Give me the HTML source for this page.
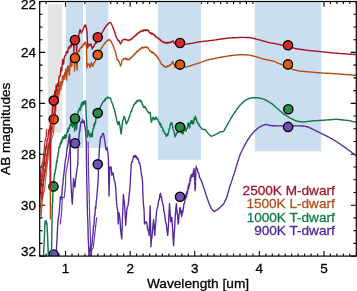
<!DOCTYPE html>
<html><head><meta charset="utf-8"><style>
html,body{margin:0;padding:0;background:#fff;}
svg{display:block;}
</style></head><body>
<svg width="357" height="291" viewBox="0 0 357 291">
<rect width="357" height="291" fill="#fff"/>
<path d="M39.70 256.1V253.50M39.70 1.5V4.10M46.16 256.1V253.50M46.16 1.5V4.10M52.62 256.1V253.50M52.62 1.5V4.10M59.08 256.1V253.50M59.08 1.5V4.10M65.54 256.1V250.90M65.54 1.5V6.70M72.01 256.1V253.50M72.01 1.5V4.10M78.47 256.1V253.50M78.47 1.5V4.10M84.93 256.1V253.50M84.93 1.5V4.10M91.39 256.1V253.50M91.39 1.5V4.10M97.85 256.1V253.50M97.85 1.5V4.10M104.31 256.1V253.50M104.31 1.5V4.10M110.77 256.1V253.50M110.77 1.5V4.10M117.23 256.1V253.50M117.23 1.5V4.10M123.69 256.1V253.50M123.69 1.5V4.10M130.15 256.1V250.90M130.15 1.5V6.70M136.62 256.1V253.50M136.62 1.5V4.10M143.08 256.1V253.50M143.08 1.5V4.10M149.54 256.1V253.50M149.54 1.5V4.10M156.00 256.1V253.50M156.00 1.5V4.10M162.46 256.1V253.50M162.46 1.5V4.10M168.92 256.1V253.50M168.92 1.5V4.10M175.38 256.1V253.50M175.38 1.5V4.10M181.84 256.1V253.50M181.84 1.5V4.10M188.30 256.1V253.50M188.30 1.5V4.10M194.76 256.1V250.90M194.76 1.5V6.70M201.23 256.1V253.50M201.23 1.5V4.10M207.69 256.1V253.50M207.69 1.5V4.10M214.15 256.1V253.50M214.15 1.5V4.10M220.61 256.1V253.50M220.61 1.5V4.10M227.07 256.1V253.50M227.07 1.5V4.10M233.53 256.1V253.50M233.53 1.5V4.10M239.99 256.1V253.50M239.99 1.5V4.10M246.45 256.1V253.50M246.45 1.5V4.10M252.91 256.1V253.50M252.91 1.5V4.10M259.37 256.1V250.90M259.37 1.5V6.70M265.83 256.1V253.50M265.83 1.5V4.10M272.30 256.1V253.50M272.30 1.5V4.10M278.76 256.1V253.50M278.76 1.5V4.10M285.22 256.1V253.50M285.22 1.5V4.10M291.68 256.1V253.50M291.68 1.5V4.10M298.14 256.1V253.50M298.14 1.5V4.10M304.60 256.1V253.50M304.60 1.5V4.10M311.06 256.1V253.50M311.06 1.5V4.10M317.52 256.1V253.50M317.52 1.5V4.10M323.98 256.1V250.90M323.98 1.5V6.70M330.44 256.1V253.50M330.44 1.5V4.10M336.91 256.1V253.50M336.91 1.5V4.10M343.37 256.1V253.50M343.37 1.5V4.10M349.83 256.1V253.50M349.83 1.5V4.10M356.29 256.1V253.50M356.29 1.5V4.10M39.7 1.50H45.20M356.3 1.50H350.80M39.7 14.23H42.50M356.3 14.23H353.50M39.7 26.96H42.50M356.3 26.96H353.50M39.7 39.69H42.50M356.3 39.69H353.50M39.7 52.42H45.20M356.3 52.42H350.80M39.7 65.15H42.50M356.3 65.15H353.50M39.7 77.88H42.50M356.3 77.88H353.50M39.7 90.61H42.50M356.3 90.61H353.50M39.7 103.34H45.20M356.3 103.34H350.80M39.7 116.07H42.50M356.3 116.07H353.50M39.7 128.80H42.50M356.3 128.80H353.50M39.7 141.53H42.50M356.3 141.53H353.50M39.7 154.26H45.20M356.3 154.26H350.80M39.7 166.99H42.50M356.3 166.99H353.50M39.7 179.72H42.50M356.3 179.72H353.50M39.7 192.45H42.50M356.3 192.45H353.50M39.7 205.18H45.20M356.3 205.18H350.80M39.7 217.91H42.50M356.3 217.91H353.50M39.7 230.64H42.50M356.3 230.64H353.50M39.7 243.37H42.50M356.3 243.37H353.50M39.7 256.10H45.20M356.3 256.10H350.80" stroke="#000" stroke-width="1.1" fill="none"/>
<rect x="47.3" y="2.1" width="15.4" height="3" fill="#fff"/>
<rect x="47.8" y="4.0" width="14.50" height="129.00" fill="#e5e5e5"/>
<rect x="65.85" y="1.5" width="17.15" height="146.50" fill="#cbdef0"/>
<rect x="85.8" y="1.5" width="22.50" height="146.50" fill="#cbdef0"/>
<rect x="157.9" y="1.5" width="43.10" height="158.30" fill="#cbdef0"/>
<rect x="254.8" y="1.5" width="66.40" height="149.80" fill="#cbdef0"/>
<clipPath id="ax"><rect x="39.7" y="1.5" width="316.60" height="254.60"/></clipPath>
<g clip-path="url(#ax)">
<path d="M55.9,260.0 56.5,247.3 57.1,238.1 57.7,225.0 58.3,218.2 58.9,215.4 59.5,209.4 60.3,197.3 60.8,196.8 61.2,199.0 61.8,195.1 62.3,187.5 62.9,183.6 63.7,175.0 64.3,170.6 64.9,164.5 65.5,160.0 66.2,156.4 66.9,149.7 67.6,146.5 68.3,143.1 68.9,137.2 69.6,134.1 70.2,145.0 70.7,178.0 71.6,196.0 72.3,204.0 73.1,190.0 73.5,178.4 74.2,185.0 75.0,187.2 75.5,180.0 76.0,177.1 76.5,172.6 77.2,168.0 77.9,163.8 78.0,150.0 78.7,139.8 79.4,132.5 79.9,130.5 80.5,124.6 81.0,122.0 81.8,122.3 82.5,119.5 83.3,123.0 83.8,121.5 84.2,121.0 84.7,125.6 85.2,127.4 85.7,133.1 86.2,141.8 86.7,175.0 87.1,196.2 87.5,215.0 87.9,223.4 88.2,238.6 88.6,244.3 89.0,258.0 89.5,255.3 90.0,250.0 90.4,247.0 90.8,250.8 91.3,244.8 91.7,246.0 92.1,243.0 92.6,235.9 93.0,235.4 93.4,226.1 93.9,226.5 94.3,219.0 94.7,214.5 95.0,214.9 95.4,206.4 95.8,208.5 96.2,201.9 96.5,199.9 96.9,195.7 97.6,187.3 98.2,180.0 98.6,160.4 99.1,154.5 99.6,145.9 100.2,140.6 100.7,137.0 101.5,137.4 102.2,134.6 102.9,133.2 103.4,133.4 103.9,135.3 104.5,139.7 105.0,141.5 105.5,146.5 106.3,150.0 107.1,147.7 107.7,151.1 108.4,158.0 109.0,196.0 109.5,180.0 109.9,166.9 110.5,167.6 111.1,166.9 111.9,175.1 112.6,173.0 113.2,173.1 113.9,178.8 114.6,181.3 115.2,183.3 115.7,187.5 116.6,203.6 117.2,207.9 117.7,210.5 118.2,224.0 118.9,212.7 119.5,215.3 120.0,219.5 120.5,228.6 121.2,235.1 121.8,238.9 122.2,225.1 122.7,212.7 123.4,194.5 124.0,200.2 124.5,203.6 125.1,213.3 125.7,225.2 126.2,218.9 126.8,210.5 127.4,206.8 128.0,205.7 128.6,201.4 129.2,194.2 129.8,190.0 130.5,178.2 131.2,164.8 131.9,161.5 132.5,161.5 133.2,157.6 133.7,155.9 134.2,157.3 134.8,155.5 135.3,155.5 135.9,157.6 136.5,156.3 137.2,159.0 137.8,158.0 138.4,159.6 139.1,163.2 139.8,163.2 140.5,166.9 141.2,172.5 141.8,175.9 142.5,181.3 142.9,194.0 143.4,203.6 144.1,210.5 144.5,224.0 145.1,221.8 145.8,223.0 146.4,221.8 146.9,223.4 147.5,228.4 148.0,229.8 148.6,231.7 149.1,235.5 149.6,222.0 150.2,205.9 150.9,246.8 151.4,239.9 152.0,237.3 152.5,230.9 153.1,224.3 153.6,219.5 154.2,228.2 154.8,235.5 155.3,227.1 155.9,220.9 156.4,212.7 157.0,209.1 157.6,207.4 158.2,203.6 158.8,199.6 159.3,199.6 159.9,194.6 160.5,193.4 161.1,197.5 161.6,197.1 162.1,201.6 162.7,203.6 163.3,205.5 163.8,211.0 164.4,212.5 165.0,217.3 165.6,222.5 166.2,223.6 166.8,228.6 167.7,235.5 168.4,226.4 168.9,215.9 169.5,203.6 170.1,212.1 170.7,221.8 171.2,220.1 171.8,217.3 172.4,225.6 173.0,237.0 173.6,245.7 174.1,235.2 174.7,227.5 175.2,217.3 175.8,209.8 176.4,203.6 177.0,211.2 177.6,215.9 178.2,224.0 178.6,222.0 179.0,214.4 179.4,214.1 179.8,208.2 180.2,207.5 180.7,212.9 181.1,210.4 181.6,216.6 182.0,215.0 182.4,210.6 182.8,212.6 183.2,207.7 183.5,208.7 183.9,203.8 184.3,203.6 184.7,202.4 185.0,199.2 185.4,195.4 185.8,198.7 186.2,193.5 186.6,196.8 187.0,191.1 187.4,193.5 187.8,190.1 188.2,185.7 188.6,189.1 189.1,183.3 189.5,185.6 189.9,182.4 190.2,177.5 190.6,181.0 191.0,175.1 191.3,174.7 191.8,177.0 192.2,174.0 192.7,176.8 193.0,176.7 193.4,170.6 193.8,171.8 194.1,168.4 194.6,177.5 195.1,190.8 195.5,185.0 195.8,172.0 196.2,166.3 196.7,168.8 197.2,168.5 197.8,172.0 198.3,172.6 198.9,173.5 199.4,177.3 200.0,178.2 200.6,179.2 201.2,180.2 201.8,182.1 202.5,184.0 203.1,185.8 203.7,187.7 204.4,189.6 205.0,191.5 205.6,193.4 206.2,195.2 206.9,197.1 207.5,198.9 208.1,200.8 208.7,202.3 209.3,203.9 210.0,205.4 210.6,207.0 211.2,208.5 211.8,209.1 212.4,209.7 213.1,210.4 213.7,211.0 214.3,211.6 214.9,211.2 215.5,210.8 216.0,210.4 216.6,210.1 217.2,209.7 217.8,209.3 218.3,208.9 218.9,208.5 219.5,207.9 220.1,207.3 220.7,206.8 221.2,206.2 221.8,205.6 222.4,205.1 223.0,204.5 223.6,203.9 224.2,202.7 224.8,201.4 225.5,200.2 226.1,198.9 226.7,197.7 227.3,195.5 227.9,193.4 228.5,191.2 229.1,189.1 229.7,186.9 230.3,185.2 230.9,183.4 231.5,181.7 232.1,179.9 232.6,178.2 233.2,176.4 233.8,174.7 234.4,172.9 235.0,170.8 235.6,168.7 236.3,166.7 236.9,164.6 237.5,162.5 238.1,160.8 238.6,159.1 239.2,157.4 239.7,155.7 240.3,154.0 240.9,152.7 241.5,151.5 242.2,150.2 242.8,149.0 243.4,147.7 244.0,146.6 244.6,145.4 245.2,144.3 245.9,143.2 246.5,142.0 247.1,140.9 247.7,140.0 248.4,139.0 249.0,138.1 249.6,137.2 250.3,136.2 250.9,135.3 251.5,134.6 252.1,133.9 252.8,133.2 253.4,132.4 254.0,131.7 254.6,131.0 255.2,130.5 255.8,130.0 256.4,129.4 257.1,128.9 257.7,128.4 258.3,127.9 258.9,127.5 259.5,127.2 260.1,126.8 260.8,126.4 261.4,126.1 262.0,125.7 262.6,125.5 263.2,125.3 263.9,125.1 264.5,124.8 265.1,124.6 265.7,124.4 266.3,124.5 267.0,124.7 267.6,124.8 268.2,125.0 268.8,125.2 269.4,125.4 270.0,125.5 270.5,125.5 271.1,125.6 271.6,125.6 272.2,125.7 272.8,125.7 273.4,125.7 273.9,125.7 274.5,125.7 275.1,125.7 275.6,125.8 276.2,125.8 276.8,125.8 277.4,125.8 278.0,125.8 278.5,125.8 279.1,125.8 279.7,125.8 280.3,125.9 280.9,125.9 281.5,125.9 282.1,126.0 282.7,126.0 283.3,126.0 283.8,126.1 284.4,126.1 285.0,126.1 285.6,126.2 286.2,126.2 286.8,126.2 287.4,126.3 288.0,126.3 288.6,126.3 289.2,126.2 289.8,126.2 290.4,126.2 291.0,126.1 291.6,126.1 292.1,126.0 292.7,126.0 293.3,126.0 293.9,125.9 294.5,125.9 295.1,125.9 295.7,125.8 296.3,125.8 296.9,125.8 297.5,125.8 298.1,125.9 298.8,125.9 299.4,125.9 300.0,125.9 300.6,125.9 301.2,126.0 301.8,126.0 302.4,126.0 303.1,126.0 303.7,126.1 304.3,126.1 304.9,126.1 305.5,126.3 306.0,126.5 306.6,126.7 307.2,126.9 307.7,127.0 308.3,127.2 308.9,127.4 309.4,127.6 310.0,127.8 310.6,128.1 311.2,128.4 311.8,128.7 312.4,129.0 312.9,129.3 313.5,129.6 314.1,129.9 314.7,130.2 315.3,130.4 315.9,130.7 316.5,131.0 317.0,131.3 317.6,131.6 318.2,131.9 318.8,132.2 319.4,132.5 320.0,132.8 320.6,133.1 321.2,133.4 321.8,133.7 322.4,134.0 323.0,134.3 323.6,134.6 324.2,134.9 324.9,135.2 325.5,135.5 326.1,135.8 326.7,136.1 327.3,136.4 327.9,136.7 328.5,137.0 329.1,137.3 329.7,137.6 330.3,138.0 330.9,138.3 331.5,138.7 332.1,139.0 332.7,139.4 333.3,139.7 333.9,140.0 334.5,140.4 335.1,140.7 335.7,141.1 336.3,141.4 336.9,141.8 337.5,142.2 338.1,142.7 338.7,143.1 339.3,143.5 339.9,143.9 340.5,144.3 341.1,144.8 341.7,145.2 342.3,145.6 342.9,146.0 343.5,146.4 344.1,146.8 344.7,147.3 345.3,147.7 345.9,148.1 346.5,148.5 347.1,149.0 347.7,149.4 348.3,149.9 348.9,150.3 349.5,150.8 350.1,151.2 350.7,151.6 351.3,152.1 351.9,152.5 352.5,153.0 353.1,153.4 353.8,153.9 354.4,154.5 355.1,155.0 355.7,155.5 356.4,156.1 357.0,156.6" stroke="#5428a0" stroke-width="1.35" fill="none" stroke-linejoin="round"/>
<path d="M60.3,224.5 61.7,210.9 62.3,197.3 64.3,197.3 65.6,184.1 65.7,174.5 68.3,159.8 70.5,145.1" stroke="#5428a0" stroke-width="1.2" fill="none" stroke-linejoin="round" opacity="0.9"/>
<path d="M88.1,141.5 88.6,173.8 89.7,216.3 91.0,256.6 91.8,249.3 93.2,247.8 96.7,217.2" stroke="#5428a0" stroke-width="1.2" fill="none" stroke-linejoin="round" opacity="0.9"/>
<circle cx="53.6" cy="254.5" r="4.6" fill="#7050b0" stroke="#000" stroke-width="1.4"/>
<circle cx="75.05" cy="143.2" r="4.6" fill="#7050b0" stroke="#000" stroke-width="1.4"/>
<circle cx="97.75" cy="164.3" r="4.6" fill="#7050b0" stroke="#000" stroke-width="1.4"/>
<circle cx="180.0" cy="196.8" r="4.6" fill="#7050b0" stroke="#000" stroke-width="1.4"/>
<circle cx="288.1" cy="126.9" r="4.6" fill="#7050b0" stroke="#000" stroke-width="1.4"/>
<path d="M43.4,260.0 43.8,249.3 44.2,242.2 44.7,229.6 45.1,221.0 45.5,222.5 46.0,220.6 46.5,223.9 46.9,223.0 47.3,230.6 47.8,241.0 48.2,251.9 48.7,260.0 49.1,258.6 49.5,260.5 49.9,257.4 50.3,260.0 50.7,256.9 51.1,260.2 51.5,258.0 51.9,229.5 52.3,205.0 52.7,200.9 53.0,191.6 53.4,186.4 53.8,183.0 54.1,177.5 54.5,173.2 54.9,174.1 55.4,169.1 55.8,169.3 56.2,165.1 56.6,160.8 57.0,162.4 57.4,157.1 57.8,156.9 58.1,152.8 58.5,153.3 58.9,147.8 59.3,146.5 59.7,147.5 60.1,145.0 60.5,142.4 60.9,144.3 61.4,140.2 61.8,142.5 62.2,139.4 62.6,137.3 63.0,139.4 63.4,136.9 63.8,138.6 64.2,136.6 64.7,135.0 65.1,138.4 65.6,138.0 65.9,134.9 66.3,136.9 66.7,133.0 67.0,132.5 67.4,132.7 67.8,129.1 68.3,131.4 68.7,127.9 69.1,128.4 69.5,128.4 70.0,124.8 70.4,124.2 70.8,125.2 71.1,121.2 71.5,122.0 72.0,126.0 72.5,127.0 73.0,122.3 73.5,120.0 73.9,125.6 74.2,125.5 74.6,131.1 75.0,127.0 75.5,120.0 75.9,122.4 76.2,127.4 76.6,129.7 77.0,123.9 77.3,120.7 77.7,115.0 78.1,111.1 78.5,110.5 78.9,110.8 79.3,108.1 79.7,107.9 80.0,109.7 80.4,110.2 80.8,106.6 81.2,104.2 81.6,106.9 82.0,102.4 82.4,103.5 82.8,104.9 83.2,101.5 83.5,104.9 83.9,102.4 84.3,101.3 84.7,103.7 85.1,101.8 85.4,100.6 85.8,103.5 86.2,115.0 86.6,122.6 87.0,127.5 87.6,137.0 88.0,131.8 88.5,130.5 88.9,133.7 89.3,135.0 89.7,134.7 90.1,137.0 90.5,136.1 91.0,133.0 91.5,133.7 92.0,137.0 92.4,135.8 92.8,130.3 93.2,128.2 93.6,128.4 94.0,124.3 94.3,126.5 94.7,124.4 95.1,122.0 95.5,123.5 95.9,118.3 96.3,118.2 96.7,117.7 97.0,114.3 97.4,115.6 97.8,113.5 98.1,112.9 98.5,111.0 98.9,112.7 99.3,108.3 99.7,110.3 100.1,107.4 100.5,107.6 100.9,106.0 101.6,104.2 102.2,103.9 102.9,101.6 103.6,101.2 104.2,101.4 104.7,99.5 105.3,100.0 105.8,98.3 106.4,98.4 107.1,98.5 107.7,97.0 108.4,97.1 109.1,98.2 109.8,97.7 110.5,98.3 111.2,100.5 111.9,102.5 112.6,103.8 113.2,105.5 113.8,108.8 114.5,109.2 115.1,112.2 115.7,115.7 116.2,117.3 116.8,120.6 117.5,123.0 118.2,124.8 119.0,121.4 119.6,123.6 120.2,127.3 120.7,131.5 121.2,134.0 122.0,126.6 122.7,120.6 123.3,119.9 123.8,116.9 124.4,116.4 125.2,119.7 125.9,122.4 126.6,124.0 127.2,121.8 127.7,121.4 128.3,120.0 129.0,117.3 129.7,116.6 130.3,113.9 131.0,111.5 131.6,111.3 132.3,108.4 132.9,107.6 133.6,105.4 134.2,104.1 134.7,104.3 135.3,102.8 135.9,103.2 136.4,101.0 137.0,101.2 137.6,101.6 138.2,100.1 138.9,100.9 139.5,100.1 140.1,99.9 140.6,101.6 141.2,101.2 141.8,101.8 142.3,104.4 142.8,104.8 143.4,107.1 143.9,107.5 144.5,106.3 145.2,107.1 145.8,108.8 146.4,109.0 147.1,110.5 147.6,111.7 148.2,111.8 148.7,113.0 149.4,113.0 150.1,112.2 150.7,116.6 151.3,122.3 151.9,121.1 152.4,118.6 153.0,117.2 153.5,118.8 154.1,118.1 154.6,119.7 155.2,119.3 155.7,117.2 156.3,117.2 157.0,119.2 157.7,119.1 158.4,121.0 159.0,122.3 159.5,122.2 160.1,125.2 160.7,123.6 161.2,127.2 161.8,126.8 162.5,127.6 163.1,130.9 163.8,130.4 164.4,133.0 165.1,133.6 165.7,133.5 166.2,136.3 166.8,136.1 167.4,134.0 167.9,135.1 168.5,132.7 169.1,129.0 169.6,129.0 170.2,125.2 170.7,123.3 171.3,124.3 171.8,122.6 172.4,124.7 172.9,128.7 173.5,130.2 174.1,131.1 174.6,135.3 175.2,136.9 175.8,134.1 176.3,134.5 176.9,132.7 177.5,131.3 178.1,132.6 178.7,129.7 179.3,131.1 179.9,129.5 180.4,130.0 181.0,132.5 181.5,133.0 182.2,131.7 182.9,134.1 183.6,131.9 183.9,129.9 184.3,130.4 184.7,126.3 185.0,127.0 185.5,130.5 186.0,131.0 186.5,129.0 187.0,128.5 187.4,128.6 187.8,123.5 188.1,126.0 188.5,123.0 189.0,124.3 189.5,128.0 189.9,126.7 190.3,123.5 190.7,121.3 191.2,123.4 191.6,120.4 192.0,121.0 192.5,123.3 193.0,124.0 193.4,120.9 193.8,123.3 194.1,118.2 194.5,118.4 194.9,119.7 195.3,116.3 195.7,117.1 196.0,119.3 196.4,118.9 196.8,121.6 197.1,121.8 197.7,122.4 198.3,124.4 198.8,123.7 199.4,126.3 200.0,126.5 200.7,127.2 201.3,128.0 201.9,128.8 202.6,129.5 203.2,129.5 203.9,129.5 204.5,129.5 205.2,129.5 205.8,130.3 206.4,131.2 207.1,132.1 207.7,132.9 208.3,133.5 208.9,134.0 209.4,134.6 210.0,135.2 210.6,135.7 211.2,136.3 211.8,136.1 212.4,135.8 213.0,135.6 213.7,135.3 214.3,135.1 214.9,134.8 215.5,134.6 216.1,134.2 216.8,133.9 217.4,133.5 218.1,133.1 218.7,132.8 219.3,132.4 220.0,132.1 220.6,131.7 221.2,131.7 221.8,131.6 222.4,131.6 223.0,131.5 223.6,131.5 224.2,130.5 224.7,129.4 225.2,128.4 225.8,127.4 226.4,126.4 227.0,125.4 227.5,124.3 228.1,123.3 228.7,122.3 229.3,121.3 229.8,120.3 230.4,119.3 230.9,118.3 231.5,117.3 232.1,116.4 232.7,115.5 233.2,114.7 233.8,113.8 234.4,112.9 235.0,112.0 235.6,111.2 236.1,110.3 236.7,109.5 237.3,108.6 237.9,107.9 238.5,107.2 239.0,106.4 239.6,105.7 240.2,105.0 240.8,104.4 241.4,103.8 241.9,103.3 242.5,102.7 243.1,102.1 243.7,101.7 244.3,101.2 244.8,100.8 245.4,100.3 246.0,99.9 246.6,99.6 247.2,99.3 247.7,99.1 248.3,98.8 248.9,98.5 249.5,98.4 250.1,98.3 250.7,98.2 251.3,98.0 251.9,97.9 252.5,97.8 253.1,97.8 253.7,97.8 254.3,97.8 254.9,97.8 255.5,97.8 256.1,97.8 256.7,97.8 257.3,97.9 257.9,97.9 258.5,98.0 259.1,98.0 259.7,98.1 260.3,98.2 260.9,98.3 261.4,98.5 262.0,98.6 262.6,98.8 263.2,99.1 263.8,99.3 264.4,99.5 264.9,99.8 265.5,100.0 266.1,100.3 266.7,100.5 267.3,100.9 268.0,101.3 268.6,101.7 269.2,102.1 269.9,102.5 270.5,102.9 271.1,103.3 271.8,103.7 272.4,104.1 273.0,104.6 273.6,105.1 274.1,105.6 274.7,106.1 275.3,106.7 275.9,107.2 276.5,107.7 277.0,108.2 277.6,108.7 278.2,109.2 278.8,109.7 279.4,110.2 279.9,110.7 280.5,111.2 281.1,111.7 281.7,112.2 282.3,112.7 282.8,113.2 283.4,113.7 284.0,114.2 284.6,114.6 285.2,114.9 285.7,115.3 286.3,115.6 286.9,116.0 287.5,116.4 288.1,116.7 288.6,117.1 289.2,117.4 289.8,117.8 290.4,118.1 291.1,118.4 291.7,118.8 292.3,119.1 293.0,119.4 293.6,119.7 294.2,120.1 294.9,120.4 295.5,120.7 296.1,120.8 296.6,121.0 297.2,121.1 297.8,121.2 298.3,121.3 298.9,121.5 299.4,121.6 300.0,121.7 300.6,121.8 301.2,121.8 301.9,121.9 302.5,121.9 303.1,122.0 303.7,121.9 304.3,121.9 304.9,121.8 305.5,121.7 306.1,121.7 306.7,121.6 307.3,121.5 307.9,121.4 308.5,121.4 309.1,121.3 309.6,121.2 310.2,121.2 310.8,121.1 311.4,121.0 312.0,120.9 312.6,120.9 313.2,120.8 313.8,120.7 314.4,120.7 315.0,120.6 315.6,120.6 316.3,120.6 316.9,120.6 317.5,120.5 318.1,120.5 318.8,120.5 319.4,120.5 320.0,120.5 320.6,120.4 321.2,120.4 321.8,120.3 322.4,120.3 323.0,120.2 323.6,120.2 324.2,120.2 324.8,120.1 325.4,120.1 326.0,120.0 326.6,120.0 327.2,119.9 327.9,119.9 328.5,119.9 329.1,119.8 329.7,119.8 330.3,119.7 330.9,119.7 331.5,119.6 332.1,119.6 332.7,119.6 333.3,119.5 333.9,119.5 334.5,119.4 335.1,119.4 335.7,119.3 336.3,119.3 336.9,119.4 337.5,119.4 338.1,119.5 338.7,119.5 339.3,119.6 339.9,119.7 340.5,119.7 341.1,119.8 341.7,119.8 342.3,119.9 342.9,120.0 343.5,120.0 344.1,120.1 344.7,120.1 345.3,120.2 345.9,120.3 346.5,120.3 347.1,120.4 347.7,120.4 348.3,120.5 348.9,120.6 349.5,120.8 350.2,120.9 350.8,121.0 351.4,121.2 352.0,121.3 352.6,121.5 353.3,121.6 353.9,121.7 354.5,121.9 355.1,122.0 355.8,122.1 356.4,122.3 357.0,122.4" stroke="#13744a" stroke-width="1.4" fill="none" stroke-linejoin="round"/>
<circle cx="53.5" cy="186.4" r="4.6" fill="#2e8a48" stroke="#000" stroke-width="1.4"/>
<circle cx="75.05" cy="118.5" r="4.6" fill="#2e8a48" stroke="#000" stroke-width="1.4"/>
<circle cx="97.7" cy="113.1" r="4.6" fill="#2e8a48" stroke="#000" stroke-width="1.4"/>
<circle cx="180.0" cy="127.1" r="4.6" fill="#2e8a48" stroke="#000" stroke-width="1.4"/>
<circle cx="288.3" cy="109.2" r="4.6" fill="#2e8a48" stroke="#000" stroke-width="1.4"/>
<path d="M39.7,215.0 40.0,208.7 40.4,207.0 40.8,205.5 41.2,199.0 41.6,194.0 41.9,195.0 42.3,190.0 42.7,184.9 43.1,186.3 43.5,180.0 43.9,175.7 44.2,175.7 44.6,170.3 45.0,169.0 45.4,167.7 45.8,161.9 46.1,162.2 46.5,158.0 46.9,154.2 47.4,154.3 47.8,150.0 48.2,146.1 48.6,147.4 49.0,143.0 49.4,140.7 49.8,142.4 50.2,140.0 50.4,219.0 50.7,140.0 51.1,134.7 51.5,133.0 52.0,131.7 52.5,125.0 53.0,120.1 53.4,119.7 53.8,118.4 54.2,106.0 54.6,107.6 55.0,100.0 55.5,99.3 56.0,102.0 56.4,103.0 56.9,93.1 57.3,96.8 57.7,91.6 58.1,89.4 58.5,94.0 58.9,94.2 59.3,85.5 59.7,91.6 60.1,81.7 60.5,83.4 60.9,89.1 61.2,86.0 61.6,82.0 62.0,85.3 62.4,76.6 62.8,82.3 63.2,76.5 63.6,75.2 64.0,79.0 64.4,79.2 64.8,72.5 65.2,75.9 65.6,69.0 66.0,71.0 66.3,76.9 66.7,80.0 67.3,70.0 67.7,66.4 68.0,71.3 68.3,65.9 68.7,66.9 69.1,73.8 69.4,75.0 70.0,65.0 70.4,61.5 70.8,66.4 71.1,59.1 71.5,62.7 71.9,65.9 72.4,56.7 72.8,60.0 73.2,61.1 73.7,58.0 74.1,58.6 74.4,62.0 74.6,71.0 74.9,60.0 75.5,58.0 76.0,60.8 76.5,62.0 77.2,70.0 77.5,56.0 77.9,52.1 78.6,50.5 79.2,51.2 79.9,48.3 80.6,48.0 81.1,48.1 81.7,46.2 82.2,47.3 82.7,45.9 83.4,43.8 84.0,45.0 84.7,43.2 85.2,42.1 85.8,42.5 86.5,46.0 86.9,68.0 87.6,64.0 88.2,64.7 88.8,63.9 89.4,65.4 90.0,67.5 90.6,65.5 91.2,62.7 91.8,63.7 92.4,66.3 93.0,65.9 93.6,63.9 94.2,62.5 94.8,62.2 95.4,60.9 96.0,58.6 96.6,58.5 97.1,55.8 97.7,54.5 98.3,54.1 98.8,52.1 99.4,52.0 100.0,50.2 100.5,49.9 101.1,48.7 101.7,47.6 102.2,47.2 102.8,45.9 103.3,45.7 103.9,44.5 104.6,43.3 105.2,42.9 105.9,41.6 106.6,41.1 107.2,41.1 107.7,40.3 108.3,40.4 108.8,39.5 109.4,39.5 110.1,40.7 110.7,40.7 111.4,41.8 112.1,43.7 112.8,44.7 113.5,46.6 114.2,48.8 114.8,50.1 115.5,52.1 116.1,54.8 116.6,56.9 117.2,59.5 117.8,60.4 118.3,60.2 118.9,61.3 119.5,63.2 120.0,64.2 120.6,66.1 121.2,64.4 121.7,61.5 122.3,59.9 123.0,59.7 123.6,58.7 124.2,59.0 124.9,58.2 125.5,58.2 126.1,59.3 126.7,58.6 127.2,59.9 127.8,59.2 128.4,59.9 129.0,59.9 129.5,58.6 130.1,58.8 130.7,57.6 131.2,57.9 131.8,57.0 132.4,56.2 133.0,56.3 133.6,54.9 134.3,54.9 134.9,53.4 135.5,53.7 136.1,52.7 136.7,51.6 137.3,51.9 137.8,50.8 138.4,51.0 139.0,49.8 139.6,49.9 140.1,48.7 140.7,49.1 141.3,48.0 141.9,47.3 142.5,48.0 143.1,47.2 143.8,47.9 144.4,47.1 145.0,47.5 145.6,47.2 146.2,47.0 146.8,47.8 147.5,47.3 148.1,47.8 148.7,49.3 149.3,49.5 149.9,50.9 150.5,51.5 151.0,51.2 151.6,52.4 152.2,51.8 152.7,53.0 153.3,52.7 153.9,53.0 154.4,54.3 155.0,54.0 155.6,55.4 156.1,55.1 156.7,56.1 157.3,57.4 157.8,57.3 158.4,58.5 159.0,59.7 159.6,60.0 160.2,61.9 160.7,62.2 161.3,64.0 161.9,64.5 162.5,64.4 163.0,65.7 163.6,65.6 164.2,66.5 164.7,66.2 165.3,67.1 165.9,67.3 166.5,66.5 167.1,66.9 167.6,65.9 168.2,66.5 168.8,65.9 169.4,65.1 170.1,65.6 170.7,64.2 171.3,64.2 171.9,63.6 172.4,62.0 173.0,61.4 173.6,63.9 174.2,64.9 174.8,67.1 175.4,67.3 176.1,66.4 176.7,66.9 177.4,65.8 178.0,66.3 178.6,65.9 179.3,65.7 179.9,65.5 180.5,65.7 181.1,65.8 181.7,66.0 182.3,66.1 182.9,66.3 183.5,66.5 184.1,66.6 184.7,66.8 185.3,66.9 185.9,67.1 186.5,66.9 187.1,66.7 187.6,66.5 188.2,66.4 188.8,66.2 189.4,66.0 189.9,65.8 190.5,65.6 191.1,65.5 191.7,65.3 192.2,65.1 192.8,64.9 193.4,64.7 194.1,64.5 194.7,64.3 195.3,64.1 195.9,63.9 196.6,63.8 197.2,63.6 197.8,63.4 198.4,63.2 199.1,63.0 199.7,62.8 200.3,62.6 200.8,62.4 201.4,62.1 202.0,61.9 202.6,61.7 203.1,61.5 203.7,61.3 204.3,61.1 204.9,60.9 205.4,60.6 206.0,60.4 206.6,60.2 207.2,60.1 207.8,59.9 208.4,59.8 209.0,59.7 209.6,59.5 210.2,59.4 210.8,59.2 211.4,59.1 212.0,59.0 212.6,58.8 213.2,58.7 213.8,58.6 214.4,58.4 215.0,58.3 215.6,58.2 216.2,58.1 216.8,58.0 217.4,57.9 217.9,57.7 218.5,57.6 219.1,57.5 219.7,57.4 220.3,57.3 220.9,57.2 221.5,57.1 222.1,57.0 222.7,56.9 223.3,56.8 223.9,56.7 224.5,56.6 225.1,56.5 225.8,56.4 226.4,56.3 227.0,56.2 227.6,56.1 228.2,56.0 228.8,55.9 229.4,55.8 230.0,55.7 230.6,55.6 231.2,55.5 231.8,55.5 232.4,55.4 233.0,55.4 233.6,55.3 234.2,55.2 234.8,55.2 235.4,55.1 236.1,55.1 236.7,55.0 237.3,55.0 237.9,54.9 238.5,54.8 239.1,54.8 239.7,54.7 240.3,54.7 240.9,54.6 241.5,54.6 242.1,54.7 242.7,54.7 243.4,54.7 244.0,54.8 244.6,54.8 245.2,54.9 245.8,54.9 246.4,54.9 247.0,55.0 247.7,55.0 248.3,55.0 248.9,55.1 249.5,55.1 250.1,55.3 250.8,55.4 251.4,55.6 252.0,55.7 252.6,55.9 253.3,56.0 253.9,56.2 254.5,56.3 255.1,56.5 255.8,56.6 256.4,56.8 257.0,57.0 257.5,57.2 258.1,57.3 258.7,57.5 259.3,57.7 259.9,57.9 260.4,58.1 261.0,58.3 261.6,58.5 262.1,58.6 262.7,58.8 263.3,59.0 263.9,59.1 264.5,59.2 265.1,59.4 265.7,59.5 266.3,59.6 266.9,59.7 267.5,59.9 268.1,60.0 268.8,60.1 269.4,60.2 270.0,60.4 270.6,60.5 271.2,60.6 271.8,60.7 272.4,60.9 273.0,61.0 273.6,61.1 274.2,61.4 274.9,61.7 275.5,61.9 276.1,62.2 276.7,62.5 277.4,62.8 278.0,63.1 278.6,63.4 279.2,63.6 279.9,63.9 280.5,64.2 281.1,64.3 281.8,64.5 282.4,64.6 283.0,64.7 283.6,64.9 284.2,65.0 284.9,65.1 285.5,65.3 286.1,65.4 286.8,65.5 287.4,65.7 288.0,65.8 288.6,66.2 289.1,66.7 289.7,67.2 290.2,67.6 290.8,68.0 291.4,68.5 291.9,69.0 292.5,69.4 293.1,69.6 293.8,69.7 294.4,69.9 295.0,70.0 295.6,70.2 296.3,70.3 296.9,70.5 297.5,70.6 298.1,70.8 298.8,70.9 299.4,71.1 300.0,71.1 300.6,71.2 301.2,71.2 301.9,71.3 302.5,71.3 303.1,71.4 303.7,71.4 304.3,71.5 304.9,71.5 305.5,71.6 306.2,71.6 306.8,71.7 307.4,71.8 308.0,71.8 308.6,71.9 309.2,71.9 309.8,72.0 310.3,72.0 310.9,72.1 311.5,72.1 312.1,72.2 312.7,72.2 313.3,72.3 313.9,72.3 314.4,72.4 315.0,72.4 315.6,72.5 316.2,72.5 316.8,72.6 317.4,72.6 318.0,72.7 318.5,72.7 319.1,72.8 319.7,72.8 320.3,72.9 320.9,72.9 321.5,73.0 322.1,73.0 322.7,73.0 323.3,73.1 323.9,73.1 324.5,73.1 325.1,73.2 325.7,73.2 326.3,73.2 326.9,73.3 327.5,73.3 328.1,73.3 328.7,73.4 329.3,73.4 329.9,73.4 330.5,73.5 331.1,73.5 331.7,73.5 332.3,73.6 332.9,73.6 333.5,73.6 334.1,73.7 334.7,73.7 335.3,73.7 335.9,73.8 336.5,73.8 337.1,73.9 337.7,73.9 338.3,74.0 338.9,74.0 339.5,74.1 340.1,74.1 340.7,74.2 341.3,74.2 341.9,74.3 342.5,74.3 343.1,74.3 343.7,74.4 344.3,74.4 344.9,74.5 345.5,74.5 346.2,74.6 346.8,74.6 347.4,74.7 348.0,74.7 348.6,74.8 349.2,74.8 349.8,74.8 350.4,74.9 351.0,74.9 351.6,75.0 352.2,75.0 352.8,75.1 353.4,75.1 354.0,75.2 354.6,75.2 355.2,75.3 355.8,75.3 356.4,75.4 357.0,75.4" stroke="#b84c16" stroke-width="1.4" fill="none" stroke-linejoin="round"/>
<path d="M37.5,213.6 38.6,205.3 39.2,198.5 39.8,190.0 40.9,179.7 42.5,167.4 44.4,159.3 45.3,148.9 47.2,144.8" stroke="#b84c16" stroke-width="1.2" fill="none" stroke-linejoin="round" opacity="0.9"/>
<path d="M41.2,216.8 41.8,207.8 42.5,198.0 44.7,188.8 45.5,179.8 46.7,169.0 47.9,159.3 49.1,148.9 50.2,142.1 53.2,134.6 54.2,123.5 54.9,121.7 56.3,100.5 57.7,102.6 59.3,92.4" stroke="#b84c16" stroke-width="1.2" fill="none" stroke-linejoin="round" opacity="0.9"/>
<circle cx="53.7" cy="119.2" r="4.6" fill="#e05c10" stroke="#000" stroke-width="1.4"/>
<circle cx="75.0" cy="57.9" r="4.6" fill="#e05c10" stroke="#000" stroke-width="1.4"/>
<circle cx="97.75" cy="54.8" r="4.6" fill="#e05c10" stroke="#000" stroke-width="1.4"/>
<circle cx="180.05" cy="64.6" r="4.6" fill="#e05c10" stroke="#000" stroke-width="1.4"/>
<circle cx="288.0" cy="64.4" r="4.6" fill="#e05c10" stroke="#000" stroke-width="1.4"/>
<path d="M39.7,198.0 40.1,192.2 40.4,194.3 40.8,189.0 41.2,183.5 41.6,185.8 42.0,180.0 42.4,175.2 42.8,175.6 43.2,170.0 43.6,163.9 44.1,166.1 44.5,160.0 44.9,154.9 45.3,155.3 45.7,151.0 46.1,146.2 46.6,148.0 47.0,142.0 47.4,138.9 47.8,139.6 48.2,136.0 48.7,130.1 49.2,130.0 49.7,129.3 50.2,125.0 50.4,188.0 50.5,124.0 51.0,119.2 51.5,118.0 51.9,117.1 52.3,112.0 52.6,105.3 53.0,106.0 53.4,106.5 53.8,100.6 54.3,96.0 54.8,90.9 55.2,93.0 55.6,96.1 56.1,85.1 56.5,89.0 56.9,91.2 57.4,83.5 57.8,84.0 58.3,86.2 58.8,80.0 59.3,76.1 59.8,76.0 60.2,76.2 60.6,72.0 61.0,67.4 61.4,68.0 61.8,70.7 62.3,64.0 62.8,59.5 63.2,61.0 63.7,64.2 64.2,58.0 64.6,56.0 65.0,56.0 65.5,55.7 66.0,53.5 66.5,51.7 67.0,51.5 67.5,53.0 68.0,50.5 68.5,47.2 69.0,48.5 69.5,48.4 70.0,46.0 70.5,45.1 71.0,46.6 71.3,46.7 71.7,43.4 72.1,45.4 72.4,44.0 73.2,41.0 73.7,45.0 73.9,54.0 74.2,42.0 74.8,40.0 75.5,39.0 76.3,42.0 76.7,54.0 77.0,40.0 77.5,38.9 77.9,39.0 78.6,37.1 79.2,32.9 79.7,30.2 80.2,29.7 80.9,32.3 81.6,33.1 82.0,30.9 82.5,30.0 83.2,29.6 84.0,27.0 84.6,25.3 85.1,26.5 85.7,24.9 86.3,27.9 87.0,31.7 87.7,48.0 88.4,44.1 89.1,45.8 89.8,45.5 90.5,43.9 91.2,44.1 91.8,47.3 92.3,49.0 92.9,46.7 93.6,47.2 94.2,45.2 94.8,43.9 95.3,44.1 95.9,42.3 96.4,42.9 97.0,41.5 97.5,38.8 98.0,37.3 98.6,37.7 99.2,35.2 99.9,35.8 100.5,34.5 101.1,34.2 101.6,33.5 102.2,32.2 102.7,31.9 103.2,30.8 103.7,29.5 104.3,29.3 104.8,27.7 105.4,27.3 105.9,26.0 106.5,25.3 107.0,25.2 107.6,24.2 108.1,24.0 108.7,23.2 109.3,22.8 109.9,22.9 110.5,22.6 111.0,23.2 111.6,24.5 112.1,25.3 112.6,26.5 113.2,28.2 113.7,29.1 114.2,30.8 114.9,33.1 115.5,34.8 116.2,37.0 116.8,38.3 117.4,39.1 118.0,40.4 118.5,40.9 118.9,40.6 119.5,41.6 120.0,43.1 120.6,44.1 121.2,42.4 121.7,42.0 122.3,40.3 122.9,39.7 123.5,39.9 124.1,39.3 124.7,39.2 125.3,39.8 126.0,39.3 126.6,39.8 127.2,40.2 127.9,39.8 128.5,40.5 129.2,40.3 129.8,39.6 130.5,40.0 131.2,38.7 131.8,38.9 132.5,38.7 133.1,37.2 133.8,37.1 134.4,36.3 135.0,35.6 135.5,35.8 136.1,34.5 136.7,34.9 137.2,33.3 137.8,33.4 138.4,33.3 139.0,32.3 139.6,32.5 140.1,31.3 140.7,31.6 141.3,31.0 141.9,30.5 142.4,31.2 143.0,30.2 143.6,30.9 144.1,29.8 144.7,30.0 145.3,30.6 145.8,29.7 146.4,30.4 147.0,29.8 147.5,30.5 148.1,30.3 148.7,30.6 149.3,32.5 149.9,32.9 150.5,32.7 151.0,33.9 151.6,33.1 152.2,34.3 152.7,33.4 153.3,34.1 153.9,34.9 154.4,34.8 155.0,36.2 155.6,35.9 156.1,37.3 156.7,37.2 157.3,37.4 157.8,38.5 158.4,38.4 159.0,38.4 159.6,39.7 160.2,39.4 160.7,40.8 161.3,40.5 161.9,41.3 162.5,41.9 163.0,41.7 163.6,42.6 164.2,41.9 164.7,43.1 165.3,43.0 165.9,42.4 166.5,43.2 167.1,42.6 167.6,43.3 168.2,42.2 168.8,42.7 169.4,42.8 170.1,41.9 170.7,42.6 171.3,42.2 171.9,41.3 172.4,41.7 173.0,41.0 173.6,41.3 174.2,43.1 174.8,43.6 175.4,43.3 176.1,43.7 176.7,43.2 177.4,43.6 178.0,42.8 178.6,43.3 179.3,43.2 179.9,43.2 180.5,43.3 181.1,43.4 181.7,43.5 182.3,43.6 182.9,43.7 183.5,43.8 184.1,43.9 184.7,44.0 185.3,44.1 185.9,44.2 186.5,44.1 187.1,44.0 187.6,43.9 188.2,43.8 188.8,43.7 189.4,43.7 189.9,43.6 190.5,43.5 191.1,43.4 191.7,43.3 192.2,43.2 192.8,43.1 193.4,43.0 194.1,42.9 194.7,42.7 195.3,42.6 195.9,42.5 196.6,42.4 197.2,42.3 197.8,42.2 198.4,42.0 199.1,41.9 199.7,41.8 200.3,41.7 200.8,41.7 201.4,41.6 202.0,41.5 202.6,41.5 203.1,41.4 203.7,41.3 204.3,41.3 204.9,41.2 205.4,41.1 206.0,41.1 206.6,41.0 207.2,40.9 207.8,40.9 208.4,40.8 209.0,40.7 209.6,40.6 210.2,40.6 210.8,40.5 211.4,40.4 212.0,40.4 212.6,40.3 213.2,40.2 213.8,40.1 214.4,40.1 215.0,40.0 215.6,39.9 216.2,39.8 216.8,39.7 217.4,39.6 217.9,39.5 218.5,39.4 219.1,39.3 219.7,39.2 220.3,39.1 220.9,39.0 221.5,39.0 222.1,38.9 222.7,38.8 223.3,38.7 223.9,38.7 224.5,38.6 225.1,38.5 225.8,38.5 226.4,38.4 227.0,38.3 227.6,38.3 228.2,38.2 228.8,38.1 229.4,38.0 230.0,38.0 230.6,37.9 231.2,37.9 231.8,37.8 232.4,37.8 233.0,37.8 233.6,37.8 234.2,37.7 234.8,37.7 235.4,37.7 236.1,37.6 236.7,37.6 237.3,37.6 237.9,37.5 238.5,37.5 239.1,37.5 239.7,37.5 240.3,37.4 240.9,37.4 241.5,37.4 242.1,37.4 242.7,37.4 243.4,37.4 244.0,37.4 244.6,37.4 245.2,37.5 245.8,37.5 246.4,37.5 247.0,37.5 247.7,37.5 248.3,37.5 248.9,37.5 249.5,37.5 250.1,37.6 250.8,37.8 251.4,37.9 252.0,38.1 252.6,38.2 253.3,38.4 253.9,38.5 254.5,38.7 255.1,38.8 255.8,39.0 256.4,39.1 257.0,39.3 257.5,39.4 258.1,39.6 258.7,39.7 259.3,39.9 259.9,40.0 260.4,40.2 261.0,40.4 261.6,40.5 262.1,40.7 262.7,40.8 263.3,41.0 263.9,41.2 264.5,41.3 265.1,41.5 265.7,41.7 266.3,41.8 267.0,42.0 267.6,42.1 268.2,42.3 268.8,42.5 269.4,42.6 270.0,42.8 270.6,42.9 271.2,43.0 271.8,43.1 272.4,43.2 272.9,43.2 273.5,43.3 274.1,43.4 274.7,43.5 275.3,43.6 275.9,43.8 276.6,43.9 277.2,44.1 277.8,44.2 278.4,44.4 279.1,44.5 279.7,44.7 280.3,44.8 280.9,45.0 281.6,45.1 282.2,45.3 282.8,45.4 283.4,45.5 283.9,45.6 284.5,45.7 285.1,45.8 285.7,45.9 286.3,46.0 286.8,46.1 287.4,46.2 288.0,46.3 288.6,46.5 289.2,46.7 289.8,46.9 290.4,47.0 291.0,47.2 291.6,47.4 292.3,47.6 292.9,47.8 293.5,48.0 294.1,48.1 294.7,48.3 295.3,48.5 295.9,48.7 296.5,48.8 297.1,48.9 297.7,49.0 298.3,49.0 298.9,49.1 299.5,49.2 300.1,49.3 300.7,49.4 301.3,49.5 301.9,49.5 302.6,49.6 303.2,49.7 303.8,49.8 304.4,49.9 305.0,50.0 305.6,50.1 306.2,50.1 306.8,50.2 307.4,50.3 308.0,50.4 308.6,50.5 309.2,50.5 309.8,50.6 310.3,50.6 310.9,50.7 311.5,50.7 312.1,50.8 312.7,50.9 313.3,50.9 313.9,51.0 314.4,51.0 315.0,51.1 315.6,51.1 316.2,51.2 316.8,51.3 317.4,51.3 318.0,51.4 318.5,51.4 319.1,51.5 319.7,51.5 320.3,51.6 320.9,51.7 321.5,51.7 322.1,51.8 322.7,51.9 323.3,51.9 323.9,52.0 324.5,52.0 325.1,52.1 325.7,52.2 326.3,52.2 326.9,52.3 327.5,52.4 328.1,52.4 328.7,52.5 329.3,52.5 329.9,52.6 330.5,52.7 331.1,52.7 331.7,52.8 332.3,52.9 332.9,52.9 333.5,53.0 334.1,53.0 334.7,53.1 335.3,53.1 335.9,53.2 336.5,53.2 337.1,53.3 337.7,53.3 338.3,53.4 338.9,53.4 339.5,53.4 340.1,53.5 340.7,53.5 341.3,53.6 341.9,53.6 342.5,53.7 343.1,53.7 343.7,53.7 344.3,53.8 344.9,53.8 345.5,53.9 346.2,53.9 346.8,54.0 347.4,54.0 348.0,54.1 348.6,54.1 349.2,54.1 349.8,54.2 350.4,54.2 351.0,54.3 351.6,54.3 352.2,54.4 352.8,54.4 353.4,54.4 354.0,54.5 354.6,54.5 355.2,54.6 355.8,54.6 356.4,54.7 357.0,54.7" stroke="#ae1420" stroke-width="1.4" fill="none" stroke-linejoin="round"/>
<path d="M37.8,199.0 39.2,190.8 40.3,181.7 40.6,169.9 43.0,160.6 44.2,149.5 45.0,141.0 46.3,136.3 46.6,128.9" stroke="#ae1420" stroke-width="1.2" fill="none" stroke-linejoin="round" opacity="0.9"/>
<path d="M42.3,199.3 43.0,188.0 43.6,180.7 45.4,171.0 46.5,161.1 47.6,152.2 49.5,141.7 50.4,136.7 51.0,130.2 54.1,117.1 54.9,112.7 55.6,105.3 55.5,101.8" stroke="#ae1420" stroke-width="1.2" fill="none" stroke-linejoin="round" opacity="0.9"/>
<circle cx="53.75" cy="100.6" r="4.6" fill="#d8282c" stroke="#000" stroke-width="1.4"/>
<circle cx="74.95" cy="40.0" r="4.6" fill="#d8282c" stroke="#000" stroke-width="1.4"/>
<circle cx="97.75" cy="37.2" r="4.6" fill="#d8282c" stroke="#000" stroke-width="1.4"/>
<circle cx="180.05" cy="43.0" r="4.6" fill="#d8282c" stroke="#000" stroke-width="1.4"/>
<circle cx="288.0" cy="45.3" r="4.6" fill="#d8282c" stroke="#000" stroke-width="1.4"/>
</g>
<rect x="39.7" y="1.5" width="316.60" height="254.60" fill="none" stroke="#000" stroke-width="1.2"/>
<g font-family="Liberation Sans, Arial, sans-serif" fill="#000" stroke="#000" stroke-width="0.3">
<text x="36" y="9.2" text-anchor="end" font-size="13.5">22</text>
<text x="36" y="57.0" text-anchor="end" font-size="13.5">24</text>
<text x="36" y="108.0" text-anchor="end" font-size="13.5">26</text>
<text x="36" y="159.1" text-anchor="end" font-size="13.5">28</text>
<text x="36" y="209.9" text-anchor="end" font-size="13.5">30</text>
<text x="36" y="256.3" text-anchor="end" font-size="13.5">32</text>
<text x="65.54" y="273.4" text-anchor="middle" font-size="13.5">1</text>
<text x="130.15" y="273.4" text-anchor="middle" font-size="13.5">2</text>
<text x="194.76" y="273.4" text-anchor="middle" font-size="13.5">3</text>
<text x="259.37" y="273.4" text-anchor="middle" font-size="13.5">4</text>
<text x="323.98" y="273.4" text-anchor="middle" font-size="13.5">5</text>
<text x="198" y="288.3" text-anchor="middle" font-size="13.7">Wavelength [um]</text>
<text transform="translate(9.9,128.8) rotate(-90)" text-anchor="middle" font-size="13.6">AB magnitudes</text>
<text x="334.8" y="194.8" text-anchor="end" font-size="13.6" fill="#a0182c" stroke="#a0182c">2500K M-dwarf</text>
<text x="334.8" y="208.3" text-anchor="end" font-size="13.6" fill="#b0501c" stroke="#b0501c">1500K L-dwarf</text>
<text x="334.8" y="222.0" text-anchor="end" font-size="13.6" fill="#107a48" stroke="#107a48">1000K T-dwarf</text>
<text x="334.8" y="235.4" text-anchor="end" font-size="13.6" fill="#4a28a0" stroke="#4a28a0">900K T-dwarf</text>
</g>
</svg>
</body></html>
